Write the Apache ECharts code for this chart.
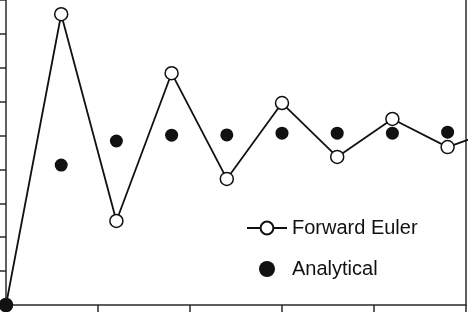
<!DOCTYPE html>
<html>
<head>
<meta charset="utf-8">
<script src="https://cdn.jsdelivr.net/npm/echarts@6/dist/echarts.min.js"></script>
<style>html,body{margin:0;padding:0;background:#fff}#c{width:474px;height:312px}</style>
</head>
<body>
<div id="c"></div>
<script>
// time steps (x) for each sample
const steps = [0, 3, 6, 9, 12, 15, 18, 21, 24, 27];
const forwardEuler = [0, 8.58, 2.48, 6.84, 3.72, 5.96, 4.37, 5.49, 4.66, 5.25];
const analyticalX = [0, 3, 6, 9, 12, 15, 18, 21, 24];
const analytical = [0, 4.13, 4.84, 5.01, 5.02, 5.07, 5.07, 5.07, 5.10];
const seriesNames = ['Forward Euler', 'Analytical'];

const chart = echarts.init(document.getElementById('c'));
const axisColor = '#2a2a2a';
chart.setOption({
  animation: false,
  backgroundColor: '#fff',
  textStyle: { fontFamily: 'Liberation Sans, Arial, sans-serif' },
  grid: { left: 6, right: 8, top: 0, bottom: 7 },
  xAxis: {
    type: 'value', min: 0, max: 25, interval: 5,
    axisLine: { show: true, lineStyle: { color: axisColor, width: 1.5 } },
    axisTick: { show: true, length: 7, lineStyle: { color: axisColor, width: 1.5 } },
    axisLabel: { show: false },
    splitLine: { show: false }
  },
  yAxis: [{
    type: 'value', min: 0, max: 9, interval: 1,
    axisLine: { show: true, lineStyle: { color: axisColor, width: 1.5 } },
    axisTick: { show: true, length: 7, lineStyle: { color: axisColor, width: 1.5 } },
    axisLabel: { show: false },
    splitLine: { show: false }
  }, {
    type: 'value', min: 0, max: 9, position: 'right',
    axisLine: { show: true, onZero: false, lineStyle: { color: axisColor, width: 1.5 } },
    axisTick: { show: false },
    axisLabel: { show: false },
    splitLine: { show: false }
  }],
  legend: {
    orient: 'vertical',
    left: 241, top: 213,
    itemWidth: 40, itemHeight: 16, itemGap: 21,
    textStyle: { fontSize: 20, color: '#111', fontFamily: 'Liberation Sans, Arial, sans-serif' },
    data: seriesNames
  },
  series: [{
    name: seriesNames[0],
    type: 'line',
    clip: false,
    data: steps.map((x, i) => [x, forwardEuler[i]]),
    symbol: 'circle', symbolSize: 13,
    lineStyle: { color: '#111', width: 1.8 },
    itemStyle: { color: '#fff', borderColor: '#111', borderWidth: 1.5 },
    z: 2
  }, {
    name: seriesNames[1],
    type: 'scatter',
    clip: false,
    data: analyticalX.map((x, i) => [x, analytical[i]]),
    symbol: 'circle', symbolSize: 13,
    itemStyle: { color: '#111', opacity: 1 },
    z: 3
  }]
});
</script>
</body>
</html>
